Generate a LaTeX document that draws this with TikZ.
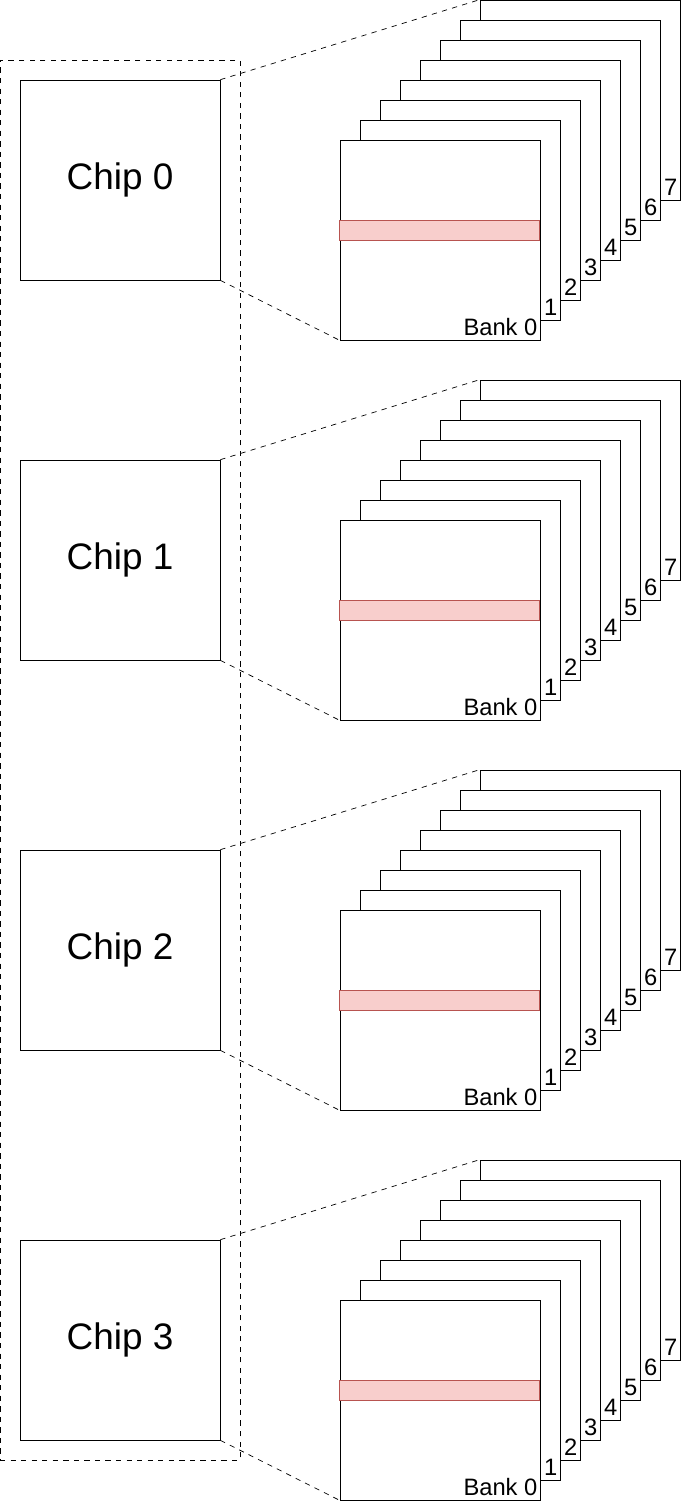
\documentclass[tikz,border=0pt]{standalone}
\usepackage{fontspec}
\setmainfont{Liberation Sans}
\usetikzlibrary{positioning}
\definecolor{rowred}{RGB}{248,206,204}
\definecolor{rowline}{RGB}{184,84,80}
\tikzset{
  chip/.style={draw, minimum width=4cm, minimum height=4cm, inner sep=0pt, font=\fontsize{21}{24}\selectfont},
  bank/.style={draw, fill=white, minimum width=4cm, minimum height=4cm, inner sep=0pt},
  num/.style={font=\fontsize{13.5}{15}\selectfont, inner xsep=1.5pt, inner ysep=2.5pt},
}
\begin{document}
\begin{tikzpicture}[x=0.02cm, y=-0.02cm]
	\useasboundingbox (0,0) rectangle (681,1502);
	\node[draw, dashed, minimum width=4.8cm, minimum height=28cm, inner sep=0pt] (group) at (120,760) {};
	\foreach \c/\t in {0/80, 1/460, 2/850, 3/1240} {
		\node[chip] (chip\c) at (120,\t+100) {Chip \c};
		\foreach \k in {7,...,0} {
			\node[bank] (b\c-\k) at (440+20*\k,\t+160-20*\k) {};
		}
		\foreach \k in {1,...,7}
			\node[num, anchor=south east] at (b\c-\k.south east) {\k};
		\node[num, anchor=south east] at (b\c-0.south east) {Bank 0};
		\draw[rowline, fill=rowred] (b\c-0.west) ++(0,-20) rectangle ++(200,20);
		\draw[dashed] (chip\c.north east) -- (b\c-7.north west);
		\draw[dashed] (chip\c.south east) -- (b\c-0.south west);
	}
\end{tikzpicture}
\end{document}
